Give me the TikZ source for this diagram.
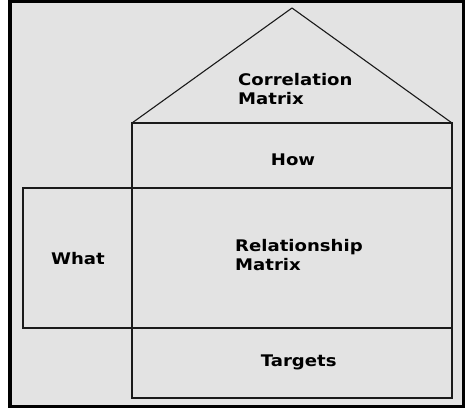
\documentclass[tikz,border=0pt]{standalone}
\usepackage{fontspec}
\newfontfamily\lblfont{DejaVu Sans}[FakeStretch=1.13]
\definecolor{panel}{HTML}{E3E3E3}
\definecolor{ink}{HTML}{1A1A1A}
\begin{document}
\begin{tikzpicture}[x=1pt,y=-1pt,
  frame/.style={draw=black,line width=3.2pt,fill=panel},
  part/.style={draw=ink,line width=1.7pt},
  roofline/.style={draw=ink,line width=1.1pt,line join=round},
  lbl/.style={font=\lblfont\bfseries\fontsize{16}{19}\selectfont,inner sep=0pt,text=black}]
\useasboundingbox (0,0) rectangle (474,417);
\fill[white] (0,0) rectangle (474,417);
\draw[frame] (10,1.6) rectangle (463.5,406.5);
% key points
\coordinate (apex) at (292,8);
\coordinate (hnw) at (132,123);
\coordinate (hne) at (452,123);
\coordinate (hsw) at (132,398);
\coordinate (hse) at (452,398);
\coordinate (rw) at (132,188);
\coordinate (re) at (452,188);
\coordinate (tw) at (132,328);
\coordinate (te) at (452,328);
\coordinate (wnw) at (23,188);
\coordinate (wsw) at (23,328);
% roof
\draw[roofline] (hnw) -- (apex) -- (hne);
% house body
\draw[part] (hnw) rectangle (hse);
\draw[part] (rw) -- (re);
\draw[part] (tw) -- (te);
% what box
\draw[part] (rw) -- (wnw) -- (wsw) -- (tw);
% labels
\node[lbl,anchor=north west,align=left] (corr) at (238,72.8) {Correlation\\Matrix};
\node[lbl,anchor=base] (how) at (293,166) {How};
\node[lbl,anchor=north west,align=left] (rel) at (235,238.8) {Relationship\\Matrix};
\node[lbl,anchor=base] (what) at (78,264) {What};
\node[lbl,anchor=base] (targets) at (298.7,366.7) {Targets};
\end{tikzpicture}
\end{document}
